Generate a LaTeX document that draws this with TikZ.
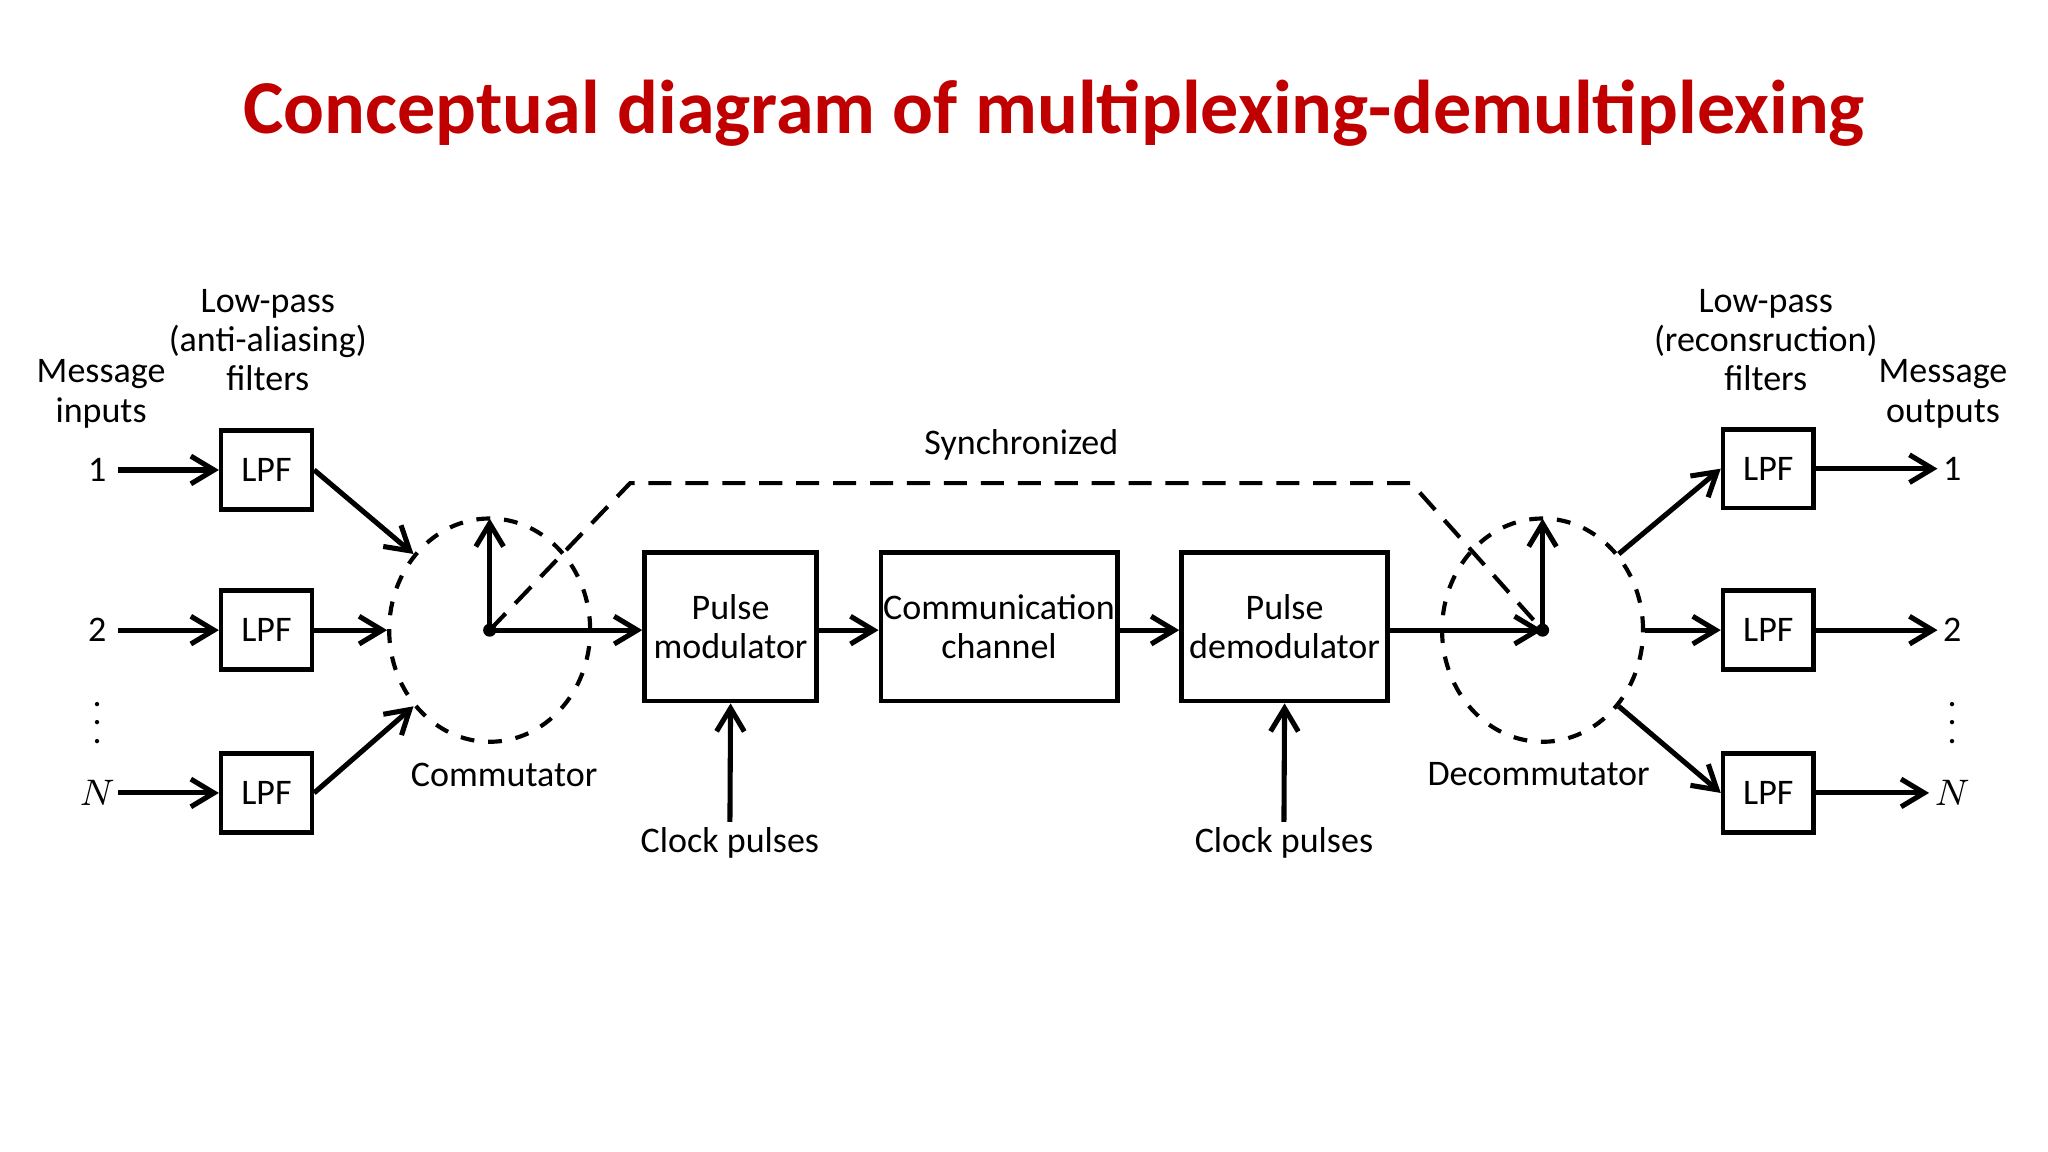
\documentclass[tikz,border=0pt]{standalone}
\usepackage{fontspec}
\setmainfont{Carlito}
\usetikzlibrary{arrows.meta,shapes}
\tikzstyle{block}=[draw, line width=1pt, inner sep=0pt, align=center, font=\fontsize{7.8}{8.5}\selectfont]
\tikzstyle{lpf}=[block, minimum width=0.69cm, minimum height=0.6cm]
\tikzstyle{label}=[draw=none, inner sep=1pt, align=center, font=\fontsize{7.8}{8.5}\selectfont]
\tikzstyle{switch}=[draw, dashed, line width=0.9pt, ellipse, minimum width=1.53cm, minimum height=1.7cm, inner sep=0pt]
\tikzstyle{edge}=[draw, line width=1.1pt, -{Straight Barb[length=5pt,width=6pt]}]
\tikzstyle{sync}=[draw, dashed, line width=0.9pt, dash pattern=on 5pt off 3pt]
\begin{document}
\begin{tikzpicture}[x=0.01cm, y=-0.01cm]
	\useasboundingbox (0,0) rectangle (1560,877);
	\node[font=\fontsize{16.5}{19}\selectfont\bfseries, text={rgb,255:red,192;green,0;blue,0}] (title) at (803,86) {Conceptual diagram of multiplexing-demultiplexing};

	% Input side
	\node[label] (msgin) at (77,300) {Message\\inputs};
	\node[label] (lpfin) at (204,259) {Low-pass\\(anti-aliasing)\\filters};
	\foreach \y/\name/\txt in {358/1/1, 480/2/2, 604/N/$N$} {
		\node[label] (in\name) at (74,\y) {\txt};
		\node[lpf] (lpfa\name) at (203,\y) {LPF};
		\draw[edge] (90,\y) -- (lpfa\name.west);
	}
	\node[label] (dotsin) at (74,540) {$\vdots$};

	% Commutator
	\node[switch] (comm) at (373,480) {};
	\fill (373,480) circle (5) coordinate (commc);
	\coordinate (commtop) at (373,395);
	\node[label] (commtxt) at (384,590) {Commutator};
	\draw[edge] (lpfa1.east) -- (comm.135);
	\draw[edge] (lpfa2.east) -- (comm.west);
	\draw[edge] (lpfaN.east) -- (comm.225);
	\draw[edge] (commc) -- (commtop);

	% Middle chain
	\node[block, minimum width=1.31cm, minimum height=1.13cm] (mod) at (556.5,477.5) {Pulse\\modulator};
	\node[block, minimum width=1.8cm, minimum height=1.13cm] (chan) at (761,477.5) {Communication\\channel};
	\node[block, minimum width=1.57cm, minimum height=1.13cm] (demod) at (978.5,477.5) {Pulse\\demodulator};
	\draw[edge] (commc) -- (mod.west |- commc);
	\draw[edge] (mod.east |- commc) -- (chan.west |- commc);
	\draw[edge] (chan.east |- commc) -- (demod.west |- commc);
	\node[label] (clk1) at (556,642) {Clock pulses};
	\node[label] (clk2) at (978,642) {Clock pulses};
	\draw[edge] (clk1.north) -- (mod.south);
	\draw[edge] (clk2.north) -- (demod.south);

	% Decommutator
	\node[switch] (decomm) at (1175,480) {};
	\fill (1175,480) circle (5) coordinate (decommc);
	\coordinate (decommtop) at (1175,395);
	\node[label] (decommtxt) at (1172,590) {Decommutator};
	\draw[edge] (demod.east |- decommc) -- (decommc);
	\draw[edge] (decommc) -- (decommtop);

	% Synchronization
	\coordinate (s1) at (480,368);
	\coordinate (s2) at (1075,368);
	\draw[sync] (commc) -- (s1) -- (s2) -- (decommc);
	\node[label] (synctxt) at (778,339) {Synchronized};

	% Output side
	\node[label] (lpfout) at (1345,259) {Low-pass\\(reconsruction)\\filters};
	\node[label] (msgout) at (1480,300) {Message\\outputs};
	\foreach \y/\name/\txt/\a in {357/1/1/45, 480/2/2/0, 604/N/$N$/-45} {
		\node[lpf] (lpfb\name) at (1347,\y) {LPF};
		\node[label] (out\name) at (1487,\y) {\txt};
		\draw[edge] (decomm.\a) -- (lpfb\name.west);
		\draw[edge] (lpfb\name.east) -- (out\name.west);
	}
	\node[label] (dotsout) at (1487,540) {$\vdots$};
\end{tikzpicture}
\end{document}
